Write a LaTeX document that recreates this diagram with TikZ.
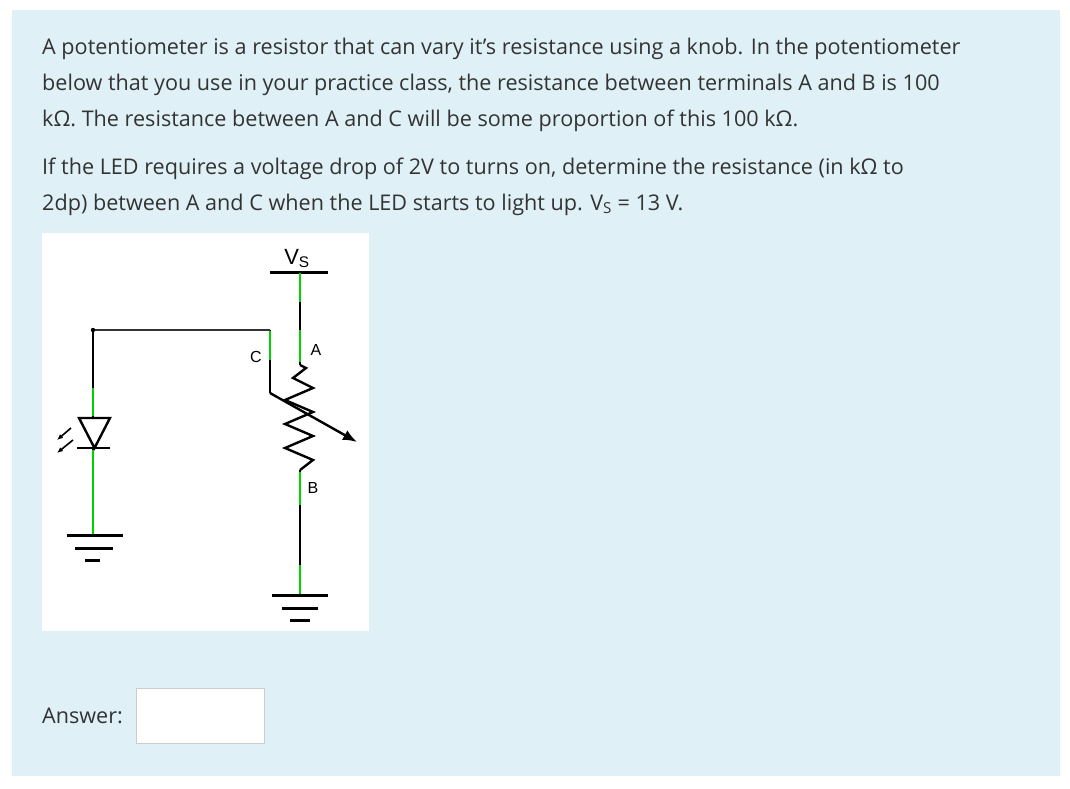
\documentclass[tikz,border=0pt]{standalone}
\usepackage{fontspec}
\setmainfont{Open Sans}
\newfontfamily\lblfont{Liberation Sans}
\usetikzlibrary{arrows.meta}
\begin{document}
\begin{tikzpicture}[x=1pt,y=-1pt,
 txt/.style={anchor=base west,inner sep=0,text=txtc,font=\fontsize{21.6}{26}\selectfont},
 wire/.style={line width=2.4pt,black},
 gw/.style={line width=2.6pt,green!75!black!70!green},
 thin/.style={line width=1.4pt,black!80},
 lbl/.style={font=\lblfont\fontsize{16}{18}\selectfont,inner sep=0}]
\definecolor{bgc}{HTML}{DFF1F7}
\definecolor{txtc}{HTML}{333333}
\useasboundingbox (0,0) rectangle (1070,788);
\fill[white] (0,0) rectangle (1070,788);
\fill[bgc] (12,10) rectangle (1060,776);
\node[txt] (l1) at (42,54) {A potentiometer is a resistor that can vary it's resistance using a knob. In the potentiometer};
\node[txt] (l2) at (42,90) {below that you use in your practice class, the resistance between terminals A and B is 100};
\node[txt] (l3) at (42,126) {kΩ. The resistance between A and C will be some proportion of this 100 kΩ.};
\node[txt] (l4) at (42,174) {If the LED requires a voltage drop of 2V to turns on, determine the resistance (in kΩ to};
\node[txt] (l5) at (42,210) {2dp) between A and C when the LED starts to light up. V\textsubscript{S} = 13 V.};
\fill[white] (42,233) rectangle (369,631);
\node[txt] (ans) at (42,723) {Answer:};
\draw[black!20,fill=white] (136,688) rectangle (264,743);
% supply
\node[font=\lblfont\fontsize{22}{24}\selectfont,inner sep=0,anchor=base] (vs) at (297,264) {V\textsubscript{S}};
\draw[line width=3pt] (270,272) -- (328,272);
\coordinate (top) at (300,272);
\coordinate (a) at (300,365);
\draw[wire] (top) -- (a);
\draw[gw] (300,273) -- (300,302) (300,330) -- (300,362);
\draw[wire] (a) -- (306,368) -- (293,378) -- (313,388) -- (285,400) -- (313,412) -- (285,424) -- (313,436) -- (285,448) -- (313,460) -- (300,470);
\coordinate (b) at (300,470);
\coordinate (g2) at (300,595);
\draw[wire] (b) -- (g2);
\draw[gw] (300,472) -- (300,505) (300,565) -- (300,594);
\draw[line width=3pt] (272,595) -- (328,595) (282,608) -- (318,608) (290,620) -- (310,620);
\node[lbl] at (316,350) {A};
\node[lbl] at (313,488) {B};
\node[lbl] at (256,357) {C};
% wiper
\coordinate (c) at (270,330);
\coordinate (cw) at (270,393);
\coordinate (tip) at (357,442);
\draw[wire] (c) -- (cw);
\draw[gw] (270,331) -- (270,360);
\draw[wire,-{Latex[length=14pt,width=11pt]}] (cw) -- (tip);
% top wire
\coordinate (n) at (93,330);
\draw[thin] (n) -- (c);
\fill (n) circle (2.2);
% LED
\coordinate (ka) at (93,418);
\coordinate (kc) at (93,448);
\coordinate (g1) at (93,535);
\draw[wire] (n) -- (ka) (kc) -- (g1);
\draw[gw] (93,388) -- (93,416) (93,450) -- (93,534);
\draw[line width=2.4pt] (79,418) -- (110,418) -- (94.5,448) -- cycle;
\draw[line width=2.6pt] (77,448) -- (110,448);
\draw[line width=1.6pt,-{Latex[length=6pt,width=5pt]}] (71,428) -- (57,440);
\draw[line width=1.6pt,-{Latex[length=6pt,width=5pt]}] (73,440) -- (57,453);
\draw[line width=3pt] (67,535) -- (123,535) (75,548) -- (113,548) (85,560) -- (100,560);
\end{tikzpicture}
\end{document}
